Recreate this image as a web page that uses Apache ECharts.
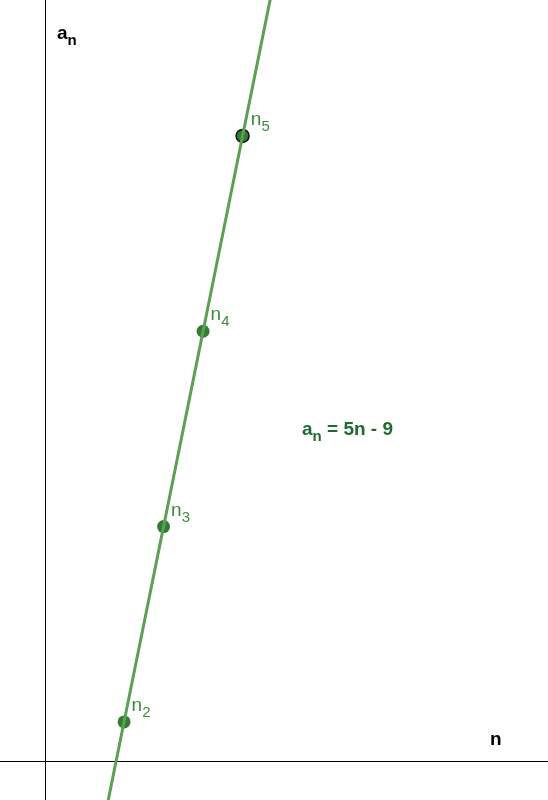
<!DOCTYPE html>
<html><head><meta charset="utf-8">
<script src="https://cdn.jsdelivr.net/npm/echarts@6/dist/echarts.min.js"></script>
<style>html,body{margin:0;padding:0;background:#fff}#c{width:548px;height:800px}</style>
</head><body><div id="c"></div>
<script>
const xTicks = [2, 4, 6, 8, 10, 12];
const yTicks = [2, 4, 6, 8, 10, 12, 14, 16, 18];
const pointN = [2, 3, 4, 5];
const pointA = [1, 6, 11, 16];
const pointLabels = ['2', '3', '4', '5'];
const lineN = [1.6, 5.9];
const lineA = [-1, 20.5];

const chart = echarts.init(document.getElementById('c'));
const pts = pointN.map((n, i) => ({
  value: [n, pointA[i]],
  label: {formatter: '{b|n}{s|' + pointLabels[i] + '}'},
  itemStyle: i === 3 ? {borderColor: '#111', borderWidth: 1.5} : {}
}));
chart.setOption({
  animation: false,
  grid: {left: 0, right: 0, top: 0, bottom: 0, containLabel: false, outerBoundsMode: 'none'},
  xAxis: {
    type: 'value', min: -1.14, max: 12.73,
    axisLine: {onZero: true, lineStyle: {color: '#000', width: 1}},
    axisTick: {show: false},
    splitLine: {show: false},
    axisLabel: {customValues: [0].concat(xTicks), color: '#333', fontSize: 14, fontFamily: 'Liberation Sans', margin: 12,
      formatter: v => v === 0 ? '0      ' : String(v)}
  },
  yAxis: {
    type: 'value', min: -1.0, max: 19.48,
    axisLine: {onZero: true, lineStyle: {color: '#000', width: 1}},
    axisTick: {show: false},
    splitLine: {show: false},
    axisLabel: {customValues: yTicks, color: '#333', fontSize: 14, fontFamily: 'Liberation Sans', margin: 8}
  },
  graphic: [
    {type: 'text', left: 490, top: 730, style: {text: 'n', font: 'bold 19px Liberation Sans', fill: '#000'}},
    {type: 'text', left: 57, top: 24, style: {rich: {b: {font: 'bold 19px Liberation Sans', fill: '#000'}, s: {font: 'bold 15px Liberation Sans', fill: '#000', padding: [14, 0, 0, 0]}}, text: '{b|a}{s|n}'}},
    {type: 'text', left: 302, top: 420, style: {rich: {b: {font: 'bold 19px Liberation Sans', fill: '#1e6b30'}, s: {font: 'bold 15px Liberation Sans', fill: '#1e6b30', padding: [14, 0, 0, 0]}}, text: '{b|a}{s|n}{b| = 5n - 9}'}}
  ],
  series: [
    {type: 'line', data: lineN.map((n, i) => [n, lineA[i]]), symbol: 'none', clip: true,
      lineStyle: {color: '#5e9e55', width: 3}},
    {type: 'scatter', data: pts, symbolSize: 13, itemStyle: {color: '#2e7d32', opacity: 1},
      label: {show: true, position: 'right', offset: [-4, -16],
        rich: {b: {fontSize: 19, color: '#3c8c3c', fontFamily: 'Liberation Sans'}, s: {fontSize: 15, color: '#3c8c3c', fontFamily: 'Liberation Sans', padding: [14, 0, 0, 0]}}}}
  ]
});
</script></body></html>
